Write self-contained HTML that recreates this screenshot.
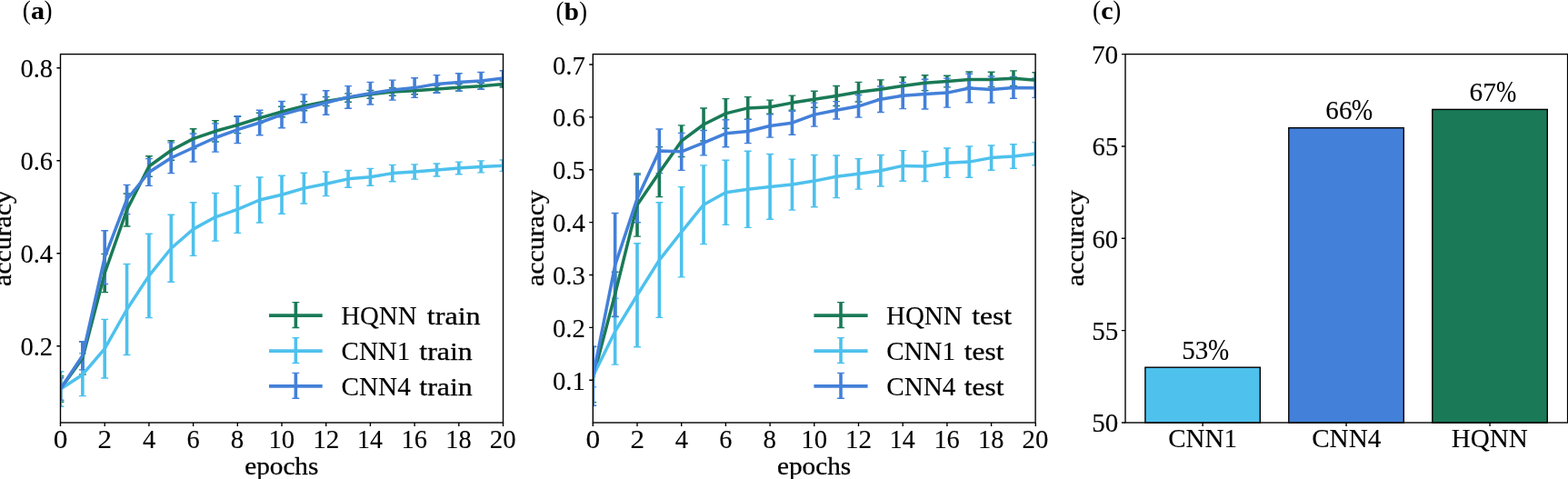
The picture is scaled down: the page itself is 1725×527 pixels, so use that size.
<!DOCTYPE html>
<html lang="en">
<head>
<meta charset="utf-8">
<title>HQNN vs CNN accuracy</title>
<style>
html,body{margin:0;padding:0;background:#fff;}
body{width:1725px;height:527px;overflow:hidden;font-family:"Liberation Serif", "DejaVu Serif", serif;}
svg{display:block;}
</style>
</head>
<body>
<svg width="1725" height="527" viewBox="0 0 1725 527" font-family='"Liberation Serif", "DejaVu Serif", serif' font-size="28" fill="#000">
<style>text{stroke:#000;stroke-width:0.12px;stroke-linejoin:round;white-space:pre}.lc{stroke-width:0.28px}</style>
<clipPath id="ca"><rect x="66.5" y="59.6" width="487" height="405.4"/></clipPath>
<g clip-path="url(#ca)">
<path d="M66.5 413.7V442.3M90.85 376V412M115.2 279.4V321.6M139.55 213V249M163.9 171.8V194.2M188.25 154.7V176.3M212.6 141.7V163.5M236.95 132.6V156M261.3 128.4V146.6M285.65 124.2V135.6M310 117.3V128.7M334.35 111.7V121.7M358.7 106.6V116.6M383.05 102.9V112.3M407.4 99.4V108.2M431.75 96.8V105.2M456.1 95.8V103.8M480.45 94V102M504.8 92.5V100.1M529.15 91.2V98.4M553.5 89V96" stroke="#1a7a57" stroke-width="3.6" fill="none"/><path d="M62.6 413.7h7.8M62.6 442.3h7.8M86.95 376h7.8M86.95 412h7.8M111.3 279.4h7.8M111.3 321.6h7.8M135.65 213h7.8M135.65 249h7.8M160 171.8h7.8M160 194.2h7.8M184.35 154.7h7.8M184.35 176.3h7.8M208.7 141.7h7.8M208.7 163.5h7.8M233.05 132.6h7.8M233.05 156h7.8M257.4 128.4h7.8M257.4 146.6h7.8M281.75 124.2h7.8M281.75 135.6h7.8M306.1 117.3h7.8M306.1 128.7h7.8M330.45 111.7h7.8M330.45 121.7h7.8M354.8 106.6h7.8M354.8 116.6h7.8M379.15 102.9h7.8M379.15 112.3h7.8M403.5 99.4h7.8M403.5 108.2h7.8M427.85 96.8h7.8M427.85 105.2h7.8M452.2 95.8h7.8M452.2 103.8h7.8M476.55 94h7.8M476.55 102h7.8M500.9 92.5h7.8M500.9 100.1h7.8M525.25 91.2h7.8M525.25 98.4h7.8M549.6 89h7.8M549.6 96h7.8" stroke="#1a7a57" stroke-width="1.4" fill="none"/>
<path d="M66.5 408.8V447.2M90.85 388.8V435.6M115.2 351.4V416M139.55 290.5V390.5M163.9 257.2V349.6M188.25 236.25V310.25M212.6 222.8V281.4M236.95 212.5V265.1M261.3 204.4V256.4M285.65 195V245M310 193.2V235.2M334.35 190.25V223.95M358.7 188.95V215.65M383.05 187.5V206.2M407.4 185.4V204.2M431.75 181.4V199.8M456.1 180.85V197.15M480.45 180V194M504.8 178.1V191.7M529.15 176.9V189.9M553.5 176V188.4" stroke="#4ec1ed" stroke-width="3.6" fill="none"/><path d="M62.6 408.8h7.8M62.6 447.2h7.8M86.95 388.8h7.8M86.95 435.6h7.8M111.3 351.4h7.8M111.3 416h7.8M135.65 290.5h7.8M135.65 390.5h7.8M160 257.2h7.8M160 349.6h7.8M184.35 236.25h7.8M184.35 310.25h7.8M208.7 222.8h7.8M208.7 281.4h7.8M233.05 212.5h7.8M233.05 265.1h7.8M257.4 204.4h7.8M257.4 256.4h7.8M281.75 195h7.8M281.75 245h7.8M306.1 193.2h7.8M306.1 235.2h7.8M330.45 190.25h7.8M330.45 223.95h7.8M354.8 188.95h7.8M354.8 215.65h7.8M379.15 187.5h7.8M379.15 206.2h7.8M403.5 185.4h7.8M403.5 204.2h7.8M427.85 181.4h7.8M427.85 199.8h7.8M452.2 180.85h7.8M452.2 197.15h7.8M476.55 180h7.8M476.55 194h7.8M500.9 178.1h7.8M500.9 191.7h7.8M525.25 176.9h7.8M525.25 189.9h7.8M549.6 176h7.8M549.6 188.4h7.8" stroke="#4ec1ed" stroke-width="1.4" fill="none"/>
<path d="M66.5 415.8V440.2M90.85 375.7V406.9M115.2 253.7V312.5M139.55 203.4V235.6M163.9 174.6V204.4M188.25 156.9V190.6M212.6 147V178M236.95 135.9V167.1M261.3 127.6V157.6M285.65 121.2V148.8M310 111.5V140.8M334.35 103.9V134.7M358.7 99.8V126.3M383.05 94.6V119.2M407.4 90.4V115M431.75 88.1V110.1M456.1 85.8V107.4M480.45 82.6V102.2M504.8 80.7V100.1M529.15 79.55V98.25M553.5 77.8V94.4" stroke="#4380d9" stroke-width="3.6" fill="none"/><path d="M62.6 415.8h7.8M62.6 440.2h7.8M86.95 375.7h7.8M86.95 406.9h7.8M111.3 253.7h7.8M111.3 312.5h7.8M135.65 203.4h7.8M135.65 235.6h7.8M160 174.6h7.8M160 204.4h7.8M184.35 156.9h7.8M184.35 190.6h7.8M208.7 147h7.8M208.7 178h7.8M233.05 135.9h7.8M233.05 167.1h7.8M257.4 127.6h7.8M257.4 157.6h7.8M281.75 121.2h7.8M281.75 148.8h7.8M306.1 111.5h7.8M306.1 140.8h7.8M330.45 103.9h7.8M330.45 134.7h7.8M354.8 99.8h7.8M354.8 126.3h7.8M379.15 94.6h7.8M379.15 119.2h7.8M403.5 90.4h7.8M403.5 115h7.8M427.85 88.1h7.8M427.85 110.1h7.8M452.2 85.8h7.8M452.2 107.4h7.8M476.55 82.6h7.8M476.55 102.2h7.8M500.9 80.7h7.8M500.9 100.1h7.8M525.25 79.55h7.8M525.25 98.25h7.8M549.6 77.8h7.8M549.6 94.4h7.8" stroke="#4380d9" stroke-width="1.4" fill="none"/>
<path d="M66.5 428L90.85 394L115.2 300.5L139.55 231L163.9 183L188.25 165.5L212.6 152.6L236.95 144.3L261.3 137.5L285.65 129.9L310 123L334.35 116.7L358.7 111.6L383.05 107.6L407.4 103.8L431.75 101L456.1 99.8L480.45 98L504.8 96.3L529.15 94.8L553.5 92.5" stroke="#1a7a57" stroke-width="3.5" fill="none" stroke-linejoin="round" stroke-linecap="square"/>
<path d="M66.5 428L90.85 412.2L115.2 383.7L139.55 340.5L163.9 303.4L188.25 273.25L212.6 252.1L236.95 238.8L261.3 230.4L285.65 220L310 214.2L334.35 207.1L358.7 202.3L383.05 196.85L407.4 194.8L431.75 190.6L456.1 189L480.45 187L504.8 184.9L529.15 183.4L553.5 182.2" stroke="#4ec1ed" stroke-width="3.5" fill="none" stroke-linejoin="round" stroke-linecap="square"/>
<path d="M66.5 428L90.85 391.3L115.2 283.1L139.55 219.5L163.9 189.5L188.25 173.75L212.6 162.5L236.95 151.5L261.3 142.6L285.65 135L310 126.15L334.35 119.3L358.7 113.05L383.05 106.9L407.4 102.7L431.75 99.1L456.1 96.6L480.45 92.4L504.8 90.4L529.15 88.9L553.5 86.1" stroke="#4380d9" stroke-width="3.5" fill="none" stroke-linejoin="round" stroke-linecap="square"/>
</g>
<rect x="66.5" y="59.6" width="487" height="405.4" fill="none" stroke="#000" stroke-width="1.39"/>
<path d="M66.5 465v4.1M115.2 465v4.1M163.9 465v4.1M212.6 465v4.1M261.3 465v4.1M310 465v4.1M358.7 465v4.1M407.4 465v4.1M456.1 465v4.1M504.8 465v4.1M553.5 465v4.1" stroke="#000" stroke-width="1.39" fill="none"/>
<path d="M66.5 380.8h-4.1M66.5 278.8h-4.1M66.5 176.8h-4.1M66.5 74.8h-4.1" stroke="#000" stroke-width="1.39" fill="none"/>
<text x="58.73" y="492.9" font-size="29.7" textLength="15.65" lengthAdjust="spacingAndGlyphs">0</text>
<text x="107.61" y="492.9" font-size="29.7" textLength="15.5" lengthAdjust="spacingAndGlyphs">2</text>
<text x="156.93" y="492.9" font-size="29.7" textLength="14.25" lengthAdjust="spacingAndGlyphs">4</text>
<text x="205.4" y="492.9" font-size="29.7" textLength="14.15" lengthAdjust="spacingAndGlyphs">6</text>
<text x="253.81" y="492.9" font-size="29.7" textLength="14.47" lengthAdjust="spacingAndGlyphs">8</text>
<text x="295.49" y="492.9" font-size="29.7" textLength="28.69" lengthAdjust="spacingAndGlyphs">10</text>
<text x="344.15" y="492.9" font-size="29.7" textLength="29.15" lengthAdjust="spacingAndGlyphs">12</text>
<text x="392.96" y="492.9" font-size="29.7" textLength="27.86" lengthAdjust="spacingAndGlyphs">14</text>
<text x="441.62" y="492.9" font-size="29.7" textLength="28.39" lengthAdjust="spacingAndGlyphs">16</text>
<text x="490.32" y="492.9" font-size="29.7" textLength="28.34" lengthAdjust="spacingAndGlyphs">18</text>
<text x="538.81" y="492.9" font-size="29.7" textLength="28.77" lengthAdjust="spacingAndGlyphs">20</text>
<text x="22.43" y="391.4" font-size="29.7" textLength="35.7" lengthAdjust="spacingAndGlyphs">0.2</text>
<text x="22.43" y="289.4" font-size="29.7" textLength="35.7" lengthAdjust="spacingAndGlyphs">0.4</text>
<text x="22.43" y="187.4" font-size="29.7" textLength="35.7" lengthAdjust="spacingAndGlyphs">0.6</text>
<text x="22.43" y="85.4" font-size="29.7" textLength="35.7" lengthAdjust="spacingAndGlyphs">0.8</text>
<text y="521.6"><tspan x="269.23" font-size="28" class="lc" textLength="81.15" lengthAdjust="spacingAndGlyphs">epochs</tspan></text>
<text class="lc" transform="translate(12.2 314.94) rotate(-90)" x="0" y="0" font-size="28" textLength="105.68" lengthAdjust="spacingAndGlyphs">accuracy</text>
<text y="21.35"><tspan stroke="none" x="24.66" y="21.45" font-size="30.3" textLength="9.14" lengthAdjust="spacingAndGlyphs">(</tspan><tspan x="33.92" y="21.15" font-size="27.2" font-weight="bold" textLength="15.03" lengthAdjust="spacingAndGlyphs">a</tspan><tspan stroke="none" x="48.62" y="21.45" font-size="30.3" textLength="9.05" lengthAdjust="spacingAndGlyphs">)</tspan></text>
<path d="M325.35 332.65V360.55" stroke="#1a7a57" stroke-width="3.6" fill="none"/>
<path d="M321.45 332.65h7.8M321.45 360.55h7.8" stroke="#1a7a57" stroke-width="1.4" fill="none"/>
<path d="M296 347.1H354.7" stroke="#1a7a57" stroke-width="3.7" fill="none"/>
<text y="356.8"><tspan x="375.24" font-size="29.7" textLength="83.25" lengthAdjust="spacingAndGlyphs">HQNN</tspan> <tspan x="469.78" font-size="28" class="lc" textLength="58.9" lengthAdjust="spacingAndGlyphs">train</tspan></text>
<path d="M325.35 371.65V399.55" stroke="#4ec1ed" stroke-width="3.6" fill="none"/>
<path d="M321.45 371.65h7.8M321.45 399.55h7.8" stroke="#4ec1ed" stroke-width="1.4" fill="none"/>
<path d="M296 386.1H354.7" stroke="#4ec1ed" stroke-width="3.7" fill="none"/>
<text y="395.6"><tspan x="375.54" font-size="29.7" textLength="75.77" lengthAdjust="spacingAndGlyphs">CNN1</tspan> <tspan x="461.33" font-size="28" class="lc" textLength="58.45" lengthAdjust="spacingAndGlyphs">train</tspan></text>
<path d="M325.35 410.35V438.25" stroke="#4380d9" stroke-width="3.6" fill="none"/>
<path d="M321.45 410.35h7.8M321.45 438.25h7.8" stroke="#4380d9" stroke-width="1.4" fill="none"/>
<path d="M296 424.8H354.7" stroke="#4380d9" stroke-width="3.7" fill="none"/>
<text y="434.6"><tspan x="375.53" font-size="29.7" textLength="76.24" lengthAdjust="spacingAndGlyphs">CNN4</tspan> <tspan x="461.33" font-size="28" class="lc" textLength="58.45" lengthAdjust="spacingAndGlyphs">train</tspan></text>
<clipPath id="cb"><rect x="652.3" y="59.6" width="486.8" height="405.4"/></clipPath>
<g clip-path="url(#cb)">
<path d="M652.3 381.5V442.6M676.65 299.3V348.2M701 190.9V260.1M725.35 161.6V216.6M749.7 137.9V172.5M774.05 119V155M798.4 108.6V141.2M822.75 106.6V131.2M847.1 110.1V125.3M871.45 105.1V121.1M895.8 100.2V118.2M920.15 94.5V116.5M944.5 90.4V112M968.85 87.85V108.65M993.2 84.7V104.5M1017.55 82.8V99.6M1041.9 83.3V95.9M1066.25 79V96.2M1090.6 79.2V95.6M1114.95 77.85V94.55M1139.3 79.7V96.5" stroke="#1a7a57" stroke-width="3.6" fill="none"/><path d="M648.4 381.5h7.8M648.4 442.6h7.8M672.75 299.3h7.8M672.75 348.2h7.8M697.1 190.9h7.8M697.1 260.1h7.8M721.45 161.6h7.8M721.45 216.6h7.8M745.8 137.9h7.8M745.8 172.5h7.8M770.15 119h7.8M770.15 155h7.8M794.5 108.6h7.8M794.5 141.2h7.8M818.85 106.6h7.8M818.85 131.2h7.8M843.2 110.1h7.8M843.2 125.3h7.8M867.55 105.1h7.8M867.55 121.1h7.8M891.9 100.2h7.8M891.9 118.2h7.8M916.25 94.5h7.8M916.25 116.5h7.8M940.6 90.4h7.8M940.6 112h7.8M964.95 87.85h7.8M964.95 108.65h7.8M989.3 84.7h7.8M989.3 104.5h7.8M1013.65 82.8h7.8M1013.65 99.6h7.8M1038 83.3h7.8M1038 95.9h7.8M1062.35 79h7.8M1062.35 96.2h7.8M1086.7 79.2h7.8M1086.7 95.6h7.8M1111.05 77.85h7.8M1111.05 94.55h7.8M1135.4 79.7h7.8M1135.4 96.5h7.8" stroke="#1a7a57" stroke-width="1.4" fill="none"/>
<path d="M652.3 402.2V425.8M676.65 328.3V401.1M701 267.8V381.7M725.35 222.8V349.4M749.7 205.6V304.9M774.05 181.9V268.6M798.4 176.2V247.4M822.75 166.3V250.4M847.1 169.5V241.3M871.45 175.1V231.1M895.8 170.5V227.7M920.15 171V217.6M944.5 174.6V208.1M968.85 170.5V205M993.2 165.6V199.2M1017.55 166.55V199.45M1041.9 163V195.4M1066.25 161V195.2M1090.6 160V187.2M1114.95 158.7V185.3M1139.3 156.6V181.8" stroke="#4ec1ed" stroke-width="3.6" fill="none"/><path d="M648.4 402.2h7.8M648.4 425.8h7.8M672.75 328.3h7.8M672.75 401.1h7.8M697.1 267.8h7.8M697.1 381.7h7.8M721.45 222.8h7.8M721.45 349.4h7.8M745.8 205.6h7.8M745.8 304.9h7.8M770.15 181.9h7.8M770.15 268.6h7.8M794.5 176.2h7.8M794.5 247.4h7.8M818.85 166.3h7.8M818.85 250.4h7.8M843.2 169.5h7.8M843.2 241.3h7.8M867.55 175.1h7.8M867.55 231.1h7.8M891.9 170.5h7.8M891.9 227.7h7.8M916.25 171h7.8M916.25 217.6h7.8M940.6 174.6h7.8M940.6 208.1h7.8M964.95 170.5h7.8M964.95 205h7.8M989.3 165.6h7.8M989.3 199.2h7.8M1013.65 166.55h7.8M1013.65 199.45h7.8M1038 163h7.8M1038 195.4h7.8M1062.35 161h7.8M1062.35 195.2h7.8M1086.7 160h7.8M1086.7 187.2h7.8M1111.05 158.7h7.8M1111.05 185.3h7.8M1135.4 156.6h7.8M1135.4 181.8h7.8" stroke="#4ec1ed" stroke-width="1.4" fill="none"/>
<path d="M652.3 381.3V446.2M676.65 234.5V348.6M701 192.2V244.8M725.35 142V190.6M749.7 146.4V187.4M774.05 143.5V170.9M798.4 131.8V161.8M822.75 131.4V157.6M847.1 125.9V151.1M871.45 122.2V148.2M895.8 113.1V139.1M920.15 111.6V131M944.5 104.5V129.1M968.85 94.95V123.45M993.2 90.75V119.65M1017.55 87.25V119.95M1041.9 86.1V118.1M1066.25 81.2V112.8M1090.6 84V113M1114.95 84.5V108.3M1139.3 86V107.4" stroke="#4380d9" stroke-width="3.6" fill="none"/><path d="M648.4 381.3h7.8M648.4 446.2h7.8M672.75 234.5h7.8M672.75 348.6h7.8M697.1 192.2h7.8M697.1 244.8h7.8M721.45 142h7.8M721.45 190.6h7.8M745.8 146.4h7.8M745.8 187.4h7.8M770.15 143.5h7.8M770.15 170.9h7.8M794.5 131.8h7.8M794.5 161.8h7.8M818.85 131.4h7.8M818.85 157.6h7.8M843.2 125.9h7.8M843.2 151.1h7.8M867.55 122.2h7.8M867.55 148.2h7.8M891.9 113.1h7.8M891.9 139.1h7.8M916.25 111.6h7.8M916.25 131h7.8M940.6 104.5h7.8M940.6 129.1h7.8M964.95 94.95h7.8M964.95 123.45h7.8M989.3 90.75h7.8M989.3 119.65h7.8M1013.65 87.25h7.8M1013.65 119.95h7.8M1038 86.1h7.8M1038 118.1h7.8M1062.35 81.2h7.8M1062.35 112.8h7.8M1086.7 84h7.8M1086.7 113h7.8M1111.05 84.5h7.8M1111.05 108.3h7.8M1135.4 86h7.8M1135.4 107.4h7.8" stroke="#4380d9" stroke-width="1.4" fill="none"/>
<path d="M652.3 416L676.65 323.6L701 225.5L725.35 189.8L749.7 155.2L774.05 137L798.4 124.9L822.75 118.9L847.1 117.7L871.45 113.1L895.8 109.2L920.15 105.5L944.5 101.2L968.85 98.25L993.2 94.6L1017.55 91.2L1041.9 89.6L1066.25 87.6L1090.6 87.4L1114.95 86.2L1139.3 88.1" stroke="#1a7a57" stroke-width="3.5" fill="none" stroke-linejoin="round" stroke-linecap="square"/>
<path d="M652.3 414L676.65 364.7L701 324.75L725.35 286.1L749.7 255.25L774.05 225.25L798.4 211.8L822.75 208.35L847.1 205.4L871.45 203.1L895.8 199.1L920.15 194.3L944.5 191.35L968.85 187.75L993.2 182.4L1017.55 183L1041.9 179.2L1066.25 178.1L1090.6 173.6L1114.95 172L1139.3 169.2" stroke="#4ec1ed" stroke-width="3.5" fill="none" stroke-linejoin="round" stroke-linecap="square"/>
<path d="M652.3 414.5L676.65 291.9L701 218.5L725.35 166L749.7 166.8L774.05 157.2L798.4 146.8L822.75 144.5L847.1 138.5L871.45 135.2L895.8 126.1L920.15 121.3L944.5 116.8L968.85 109.2L993.2 105.2L1017.55 103.6L1041.9 102.1L1066.25 97L1090.6 98.5L1114.95 96.4L1139.3 96.7" stroke="#4380d9" stroke-width="3.5" fill="none" stroke-linejoin="round" stroke-linecap="square"/>
</g>
<rect x="652.3" y="59.6" width="486.8" height="405.4" fill="none" stroke="#000" stroke-width="1.39"/>
<path d="M652.3 465v4.1M701 465v4.1M749.7 465v4.1M798.4 465v4.1M847.1 465v4.1M895.8 465v4.1M944.5 465v4.1M993.2 465v4.1M1041.9 465v4.1M1090.6 465v4.1M1139.3 465v4.1" stroke="#000" stroke-width="1.39" fill="none"/>
<path d="M652.3 418.2h-4.1M652.3 360.33h-4.1M652.3 302.47h-4.1M652.3 244.6h-4.1M652.3 186.73h-4.1M652.3 128.87h-4.1M652.3 71h-4.1" stroke="#000" stroke-width="1.39" fill="none"/>
<text x="644.53" y="492.9" font-size="29.7" textLength="15.65" lengthAdjust="spacingAndGlyphs">0</text>
<text x="693.4" y="492.9" font-size="29.7" textLength="15.5" lengthAdjust="spacingAndGlyphs">2</text>
<text x="742.73" y="492.9" font-size="29.7" textLength="14.25" lengthAdjust="spacingAndGlyphs">4</text>
<text x="791.2" y="492.9" font-size="29.7" textLength="14.15" lengthAdjust="spacingAndGlyphs">6</text>
<text x="839.61" y="492.9" font-size="29.7" textLength="14.47" lengthAdjust="spacingAndGlyphs">8</text>
<text x="881.29" y="492.9" font-size="29.7" textLength="28.69" lengthAdjust="spacingAndGlyphs">10</text>
<text x="929.95" y="492.9" font-size="29.7" textLength="29.15" lengthAdjust="spacingAndGlyphs">12</text>
<text x="978.76" y="492.9" font-size="29.7" textLength="27.86" lengthAdjust="spacingAndGlyphs">14</text>
<text x="1027.42" y="492.9" font-size="29.7" textLength="28.39" lengthAdjust="spacingAndGlyphs">16</text>
<text x="1076.12" y="492.9" font-size="29.7" textLength="28.34" lengthAdjust="spacingAndGlyphs">18</text>
<text x="1124.61" y="492.9" font-size="29.7" textLength="28.77" lengthAdjust="spacingAndGlyphs">20</text>
<text x="608.02" y="428.8" font-size="29.7" textLength="35.86" lengthAdjust="spacingAndGlyphs">0.1</text>
<text x="608.02" y="370.93" font-size="29.7" textLength="35.86" lengthAdjust="spacingAndGlyphs">0.2</text>
<text x="608.02" y="313.07" font-size="29.7" textLength="35.86" lengthAdjust="spacingAndGlyphs">0.3</text>
<text x="608.02" y="255.2" font-size="29.7" textLength="35.86" lengthAdjust="spacingAndGlyphs">0.4</text>
<text x="608.02" y="197.33" font-size="29.7" textLength="35.86" lengthAdjust="spacingAndGlyphs">0.5</text>
<text x="608.02" y="139.47" font-size="29.7" textLength="35.86" lengthAdjust="spacingAndGlyphs">0.6</text>
<text x="608.02" y="81.6" font-size="29.7" textLength="35.86" lengthAdjust="spacingAndGlyphs">0.7</text>
<text y="521.6"><tspan x="855.03" font-size="28" class="lc" textLength="81.15" lengthAdjust="spacingAndGlyphs">epochs</tspan></text>
<text class="lc" transform="translate(598 314.94) rotate(-90)" x="0" y="0" font-size="28" textLength="105.68" lengthAdjust="spacingAndGlyphs">accuracy</text>
<text y="22.3"><tspan stroke="none" x="611.38" y="22.4" font-size="30.3" textLength="9.01" lengthAdjust="spacingAndGlyphs">(</tspan><tspan x="620.84" y="22.1" font-size="27.2" font-weight="bold" textLength="16.16" lengthAdjust="spacingAndGlyphs">b</tspan><tspan stroke="none" x="636.92" y="22.4" font-size="30.3" textLength="9.05" lengthAdjust="spacingAndGlyphs">)</tspan></text>
<path d="M925 332.65V360.55" stroke="#1a7a57" stroke-width="3.6" fill="none"/>
<path d="M921.1 332.65h7.8M921.1 360.55h7.8" stroke="#1a7a57" stroke-width="1.4" fill="none"/>
<path d="M895.4 347.1H954.6" stroke="#1a7a57" stroke-width="3.7" fill="none"/>
<text y="356.8"><tspan x="975.03" font-size="29.7" textLength="83.65" lengthAdjust="spacingAndGlyphs">HQNN</tspan> <tspan x="1069.18" font-size="28" class="lc" textLength="43.91" lengthAdjust="spacingAndGlyphs">test</tspan></text>
<path d="M925 371.65V399.55" stroke="#4ec1ed" stroke-width="3.6" fill="none"/>
<path d="M921.1 371.65h7.8M921.1 399.55h7.8" stroke="#4ec1ed" stroke-width="1.4" fill="none"/>
<path d="M895.4 386.1H954.6" stroke="#4ec1ed" stroke-width="3.7" fill="none"/>
<text y="395.6"><tspan x="975.24" font-size="29.7" textLength="75.77" lengthAdjust="spacingAndGlyphs">CNN1</tspan> <tspan x="1060.89" font-size="28" class="lc" textLength="43.51" lengthAdjust="spacingAndGlyphs">test</tspan></text>
<path d="M925 410.35V438.25" stroke="#4380d9" stroke-width="3.6" fill="none"/>
<path d="M921.1 410.35h7.8M921.1 438.25h7.8" stroke="#4380d9" stroke-width="1.4" fill="none"/>
<path d="M895.4 424.8H954.6" stroke="#4380d9" stroke-width="3.7" fill="none"/>
<text y="434.6"><tspan x="975.23" font-size="29.7" textLength="76.24" lengthAdjust="spacingAndGlyphs">CNN4</tspan> <tspan x="1060.89" font-size="28" class="lc" textLength="43.51" lengthAdjust="spacingAndGlyphs">test</tspan></text>
<rect x="1259.9" y="404.19" width="126.4" height="60.81" fill="#4ec1ed" stroke="#000" stroke-width="1.39"/>
<text y="394.7"><tspan x="1300.23" font-size="29.7" textLength="29.03" lengthAdjust="spacingAndGlyphs">53</tspan><tspan x="1328.99" dy="0.9" font-size="34.5" textLength="23.13" lengthAdjust="spacingAndGlyphs">%</tspan></text>
<rect x="1417.8" y="140.68" width="126.5" height="324.32" fill="#4380d9" stroke="#000" stroke-width="1.39"/>
<text y="131.2"><tspan x="1458.37" font-size="29.7" textLength="29.06" lengthAdjust="spacingAndGlyphs">66</tspan><tspan x="1486.82" dy="0.9" font-size="34.5" textLength="23.41" lengthAdjust="spacingAndGlyphs">%</tspan></text>
<rect x="1575.8" y="120.41" width="126.5" height="344.59" fill="#1a7a57" stroke="#000" stroke-width="1.39"/>
<text y="110.9"><tspan x="1616.55" font-size="29.7" textLength="29.33" lengthAdjust="spacingAndGlyphs">67</tspan><tspan x="1645.96" dy="0.9" font-size="34.5" textLength="22.27" lengthAdjust="spacingAndGlyphs">%</tspan></text>
<rect x="1238" y="59.6" width="486.6" height="405.4" fill="none" stroke="#000" stroke-width="1.39"/>
<path d="M1323.1 465v4.1M1481.05 465v4.1M1639.05 465v4.1" stroke="#000" stroke-width="1.39" fill="none"/>
<path d="M1238 465h-4.1M1238 363.65h-4.1M1238 262.3h-4.1M1238 160.95h-4.1M1238 59.6h-4.1" stroke="#000" stroke-width="1.39" fill="none"/>
<text x="1285.24" y="492.4" font-size="29.7" textLength="75.77" lengthAdjust="spacingAndGlyphs">CNN1</text>
<text x="1443.13" y="492.4" font-size="29.7" textLength="76.14" lengthAdjust="spacingAndGlyphs">CNN4</text>
<text x="1596.63" y="492.4" font-size="29.7" textLength="84.06" lengthAdjust="spacingAndGlyphs">HQNN</text>
<text x="1201.13" y="475.4" font-size="29.7" textLength="29.01" lengthAdjust="spacingAndGlyphs">50</text>
<text x="1201.13" y="374.05" font-size="29.7" textLength="29.09" lengthAdjust="spacingAndGlyphs">55</text>
<text x="1201.59" y="272.7" font-size="29.7" textLength="28.53" lengthAdjust="spacingAndGlyphs">60</text>
<text x="1201.58" y="171.35" font-size="29.7" textLength="28.61" lengthAdjust="spacingAndGlyphs">65</text>
<text x="1200.9" y="70" font-size="29.7" textLength="29.25" lengthAdjust="spacingAndGlyphs">70</text>
<text class="lc" transform="translate(1191.8 314.94) rotate(-90)" x="0" y="0" font-size="28" textLength="105.68" lengthAdjust="spacingAndGlyphs">accuracy</text>
<text y="21.3"><tspan stroke="none" x="1201.96" y="21.4" font-size="30.3" textLength="9.14" lengthAdjust="spacingAndGlyphs">(</tspan><tspan x="1211.15" y="21.1" font-size="27.2" font-weight="bold" textLength="13.37" lengthAdjust="spacingAndGlyphs">c</tspan><tspan stroke="none" x="1224.27" y="21.4" font-size="30.3" textLength="8.99" lengthAdjust="spacingAndGlyphs">)</tspan></text>
</svg>
</body>
</html>
